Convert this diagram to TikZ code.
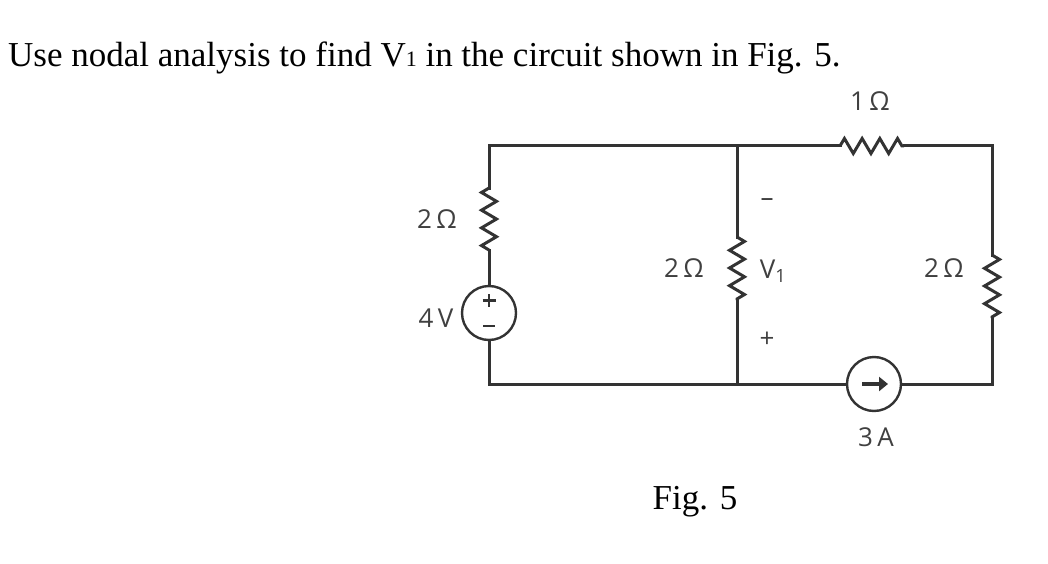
\documentclass[tikz,border=0pt]{standalone}
\usepackage{fontspec}
\setmainfont{Liberation Serif}
\newfontfamily\lab{Open Sans}
\usetikzlibrary{decorations.pathmorphing,arrows.meta}
\begin{document}
\begin{tikzpicture}[x=1pt,y=-1pt,
  w/.style={line width=3pt,draw=black!80,line cap=rect},
  res/.style={line width=3pt,draw=black!80,line join=miter,decorate,decoration={zigzag,segment length=17.7,amplitude=7.5}},
  lbl/.style={font=\lab\fontsize{26}{28}\selectfont,text=black!75,inner sep=0},
  src/.style={circle,draw=black!80,line width=2.4pt,minimum size=54pt,inner sep=0,fill=white}]
\useasboundingbox (0,0) rectangle (1048,564);
\node[anchor=west,font=\fontsize{35}{40}\selectfont,inner sep=0] (t) at (8,58) {Use nodal analysis to find V{\fontsize{22}{24}\selectfont 1} in the circuit shown in Fig. 5.};
\coordinate (tl) at (489,146); \coordinate (tm) at (737,146); \coordinate (tr) at (992,146);
\coordinate (bl) at (489,384); \coordinate (bm) at (737,384); \coordinate (br) at (992,384);
\coordinate (r1a) at (489,188); \coordinate (r1b) at (489,250);
\coordinate (r2a) at (737,237); \coordinate (r2b) at (737,300);
\coordinate (r3a) at (840,146); \coordinate (r3b) at (904,146);
\coordinate (r4a) at (992,255); \coordinate (r4b) at (992,318);
\node[src] (vs) at (489,313) {};
\node[src] (cs) at (874,384) {};
\draw[w] (bl) -- (vs.south); \draw[w] (vs.north) -- (r1b); \draw[res] (r1b) -- (r1a); \draw[w] (r1a) -- (tl) -- (r3a);
\draw[res] (r3a) -- (r3b); \draw[w] (r3b) -- (tr) -- (r4a); \draw[res] (r4a) -- (r4b); \draw[w] (r4b) -- (br) -- (cs.east);
\draw[w] (cs.west) -- (bl);
\draw[w] (tm) -- (r2a); \draw[res] (r2a) -- (r2b); \draw[w] (r2b) -- (bm);
\draw[line width=2.2pt,black!80] (489,294) -- (489,307) (482.5,300.5) -- (495.5,300.5);
\draw[line width=2.2pt,black!80] (483,326) -- (495,326);
\draw[black!80,line width=4pt,-{Triangle[length=9pt,width=14pt]}] (862,384) -- (888,384);
\node[lbl] (l1) at (870,101) {1\,Ω};
\node[lbl] (l2) at (437,219) {2\,Ω};
\node[lbl] (l3) at (436,318) {4\,V};
\node[lbl] (l4) at (684,268) {2\,Ω};
\node[lbl] (l5) at (773,271) {V\textsubscript{1}};
\node[lbl] (l6) at (767,203) {–};
\node[lbl] (l7) at (767,340) {+};
\node[lbl] (l8) at (944,268) {2\,Ω};
\node[lbl] (l9) at (876,437) {3\,A};
\node[font=\fontsize{35}{40}\selectfont,inner sep=0] (f) at (695,502) {Fig. 5};
\end{tikzpicture}
\end{document}
